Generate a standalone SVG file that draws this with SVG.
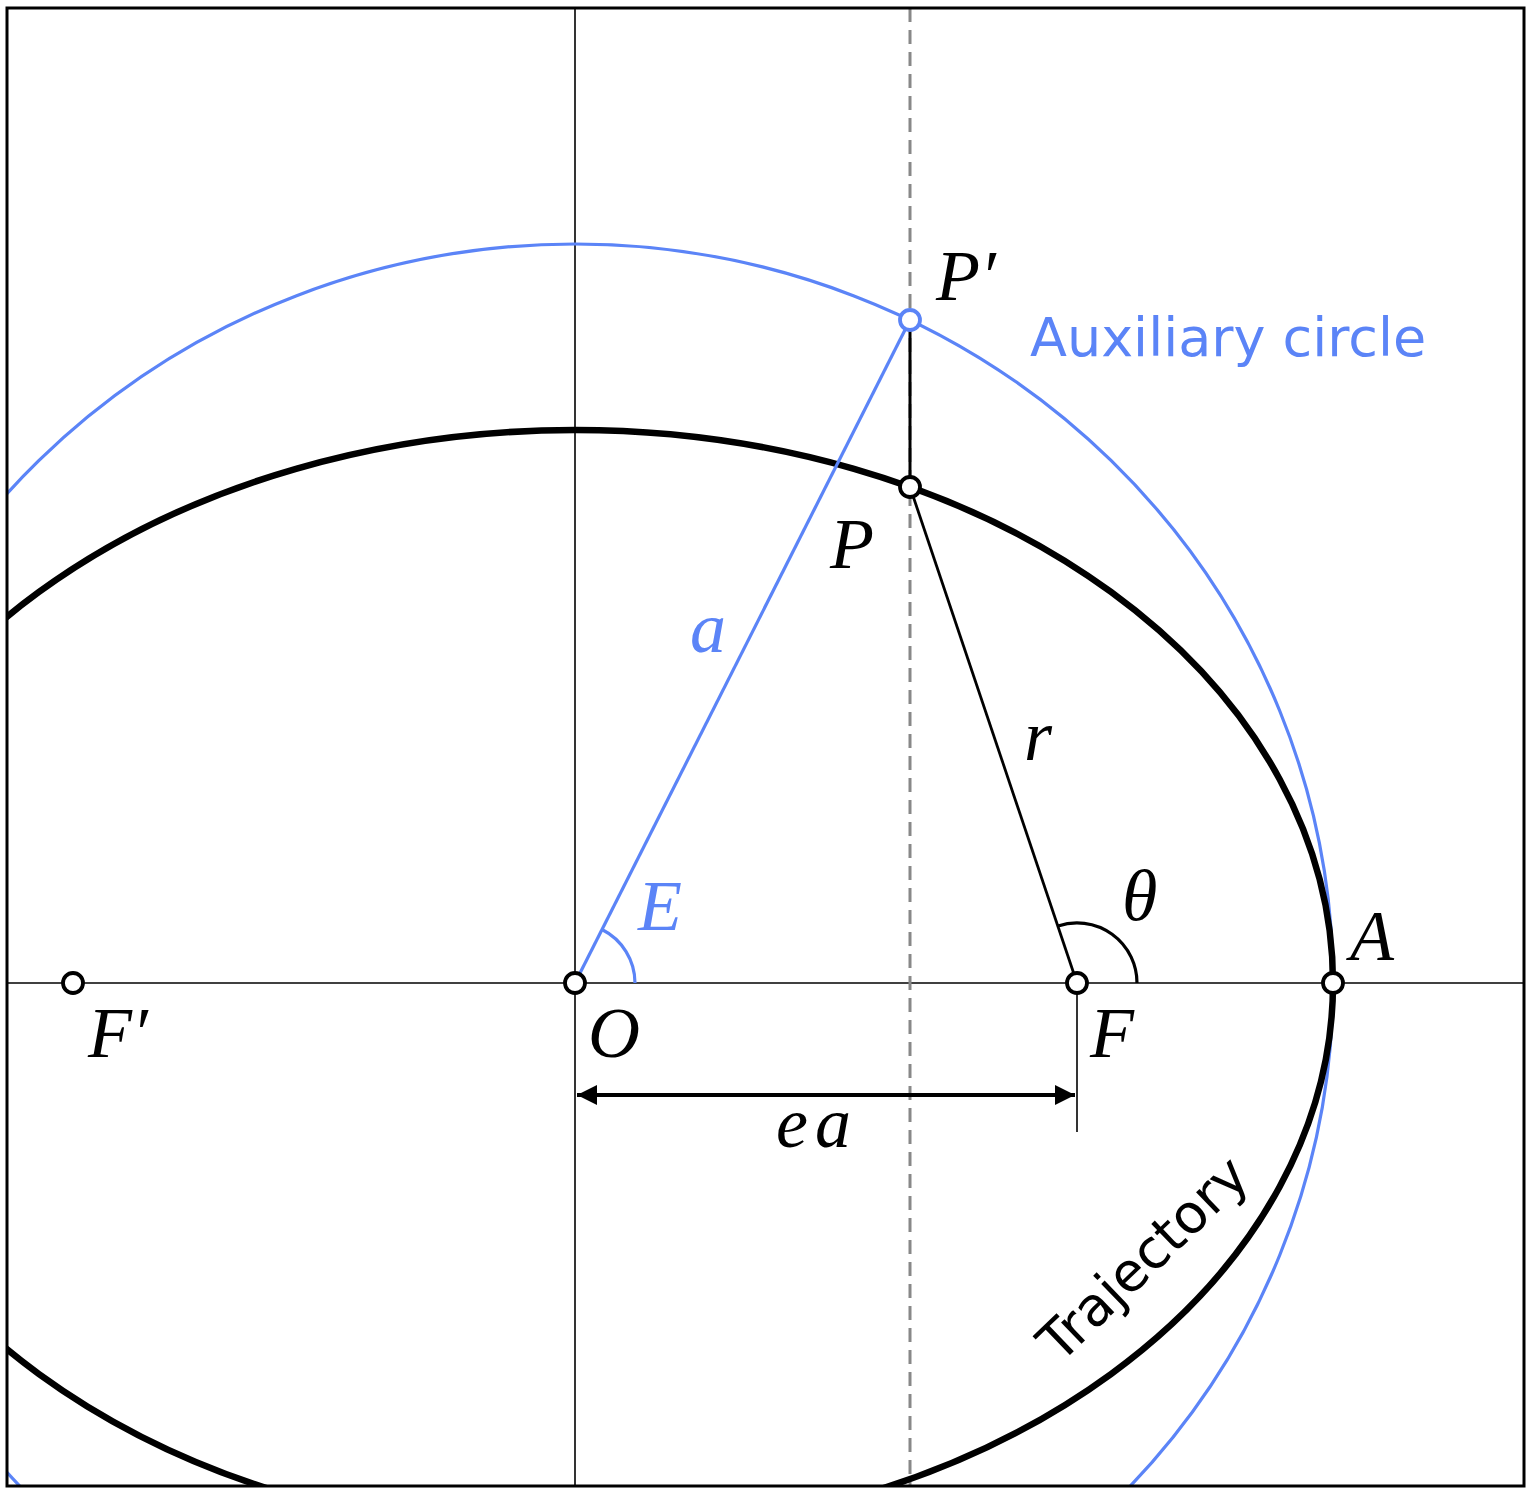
<svg xmlns="http://www.w3.org/2000/svg" width="1534" height="1498" viewBox="0 0 1534 1498">
<style>
.ax{stroke:#000;stroke-width:1.6;fill:none}
.blue{stroke:#5b84f7;fill:none}
.blk{stroke:#000;fill:none}
.pt{fill:#fff;stroke:#000;stroke-width:3.8}
.ptb{fill:#fff;stroke:#5b84f7;stroke-width:3.8}
.m{font-family:"Liberation Serif","Times New Roman",serif;font-style:italic;font-size:72px;fill:#000}
.mb{font-family:"Liberation Serif","Times New Roman",serif;font-style:italic;font-size:72px;fill:#5b84f7}
.s{font-family:"DejaVu Sans",sans-serif;font-size:54px}
</style>
<defs>
<clipPath id="frame"><rect x="7" y="8" width="1517" height="1478"/></clipPath>
<marker id="ah" viewBox="0 0 20 20" refX="20" refY="10" markerWidth="20" markerHeight="20" markerUnits="userSpaceOnUse" orient="auto-start-reverse">
<path d="M0,0 L20,10 L0,20 Z" fill="#000"/>
</marker>
</defs>
<rect x="0" y="0" width="1534" height="1498" fill="#fff"/>
<g clip-path="url(#frame)">
<g id="axes">
<line class="ax" x1="575" y1="8" x2="575" y2="1486"/>
<line class="ax" x1="7" y1="983" x2="1524" y2="983"/>
<line x1="910" y1="8" x2="910" y2="1486" stroke="#888" stroke-width="3" stroke-dasharray="14 8"/>
</g>
<g id="auxiliary-circle">
<ellipse class="blue" cx="575" cy="983" rx="758" ry="739" stroke-width="3.2"/>
</g>
<g id="trajectory">
<ellipse class="blk" cx="575" cy="983" rx="758" ry="553" stroke-width="6.5"/>
</g>
<g id="connectors">
<line class="blue" x1="575" y1="983" x2="910" y2="320" stroke-width="3.2"/>
<line class="blk" x1="910" y1="320" x2="910" y2="487" stroke-width="3"/>
<line class="blk" x1="910" y1="487" x2="1077" y2="983" stroke-width="2.8"/>
<path class="blue" d="M635,983 A60,60 0 0 0 602,929.5" stroke-width="3.2"/>
<path class="blk" d="M1137,983 A60,60 0 0 0 1058,926" stroke-width="3.2"/>
<line class="blk" x1="1077" y1="983" x2="1077" y2="1132" stroke-width="1.6"/>
<line class="blk" x1="577" y1="1095" x2="1075" y2="1095" stroke-width="4" marker-start="url(#ah)" marker-end="url(#ah)"/>
</g>
</g>
<rect x="7" y="8" width="1517" height="1478" fill="none" stroke="#000" stroke-width="3"/>
<g id="node-Fp"><circle class="pt" cx="73" cy="983" r="10"/><text class="m" x="88" y="1057">F′</text></g>
<g id="node-O"><circle class="pt" cx="575" cy="983" r="10"/><text class="m" x="588" y="1057">O</text></g>
<g id="node-F"><circle class="pt" cx="1077" cy="983" r="10"/><text class="m" x="1090" y="1057">F</text></g>
<g id="node-A"><circle class="pt" cx="1333" cy="983" r="10"/><text class="m" x="1350" y="960">A</text></g>
<g id="node-P"><circle class="pt" cx="910" cy="487" r="10"/><text class="m" x="830" y="568">P</text></g>
<g id="node-Pp"><circle class="ptb" cx="910" cy="320" r="10"/><text class="m" x="936" y="300">P′</text></g>
<g id="labels">
<text class="s" x="1030" y="356" fill="#5b84f7">Auxiliary circle</text>
<text class="s" x="1156" y="1272" fill="#000" text-anchor="middle" transform="rotate(-44 1156 1272)">Trajectory</text>
<text class="mb" x="690" y="652">a</text>
<text class="mb" x="638" y="930">E</text>
<text class="m" x="1024" y="760">r</text>
<text class="m" x="1122" y="920">θ</text>
<text class="m" x="776" y="1147">e<tspan x="815">a</tspan></text>
</g>
</svg>
